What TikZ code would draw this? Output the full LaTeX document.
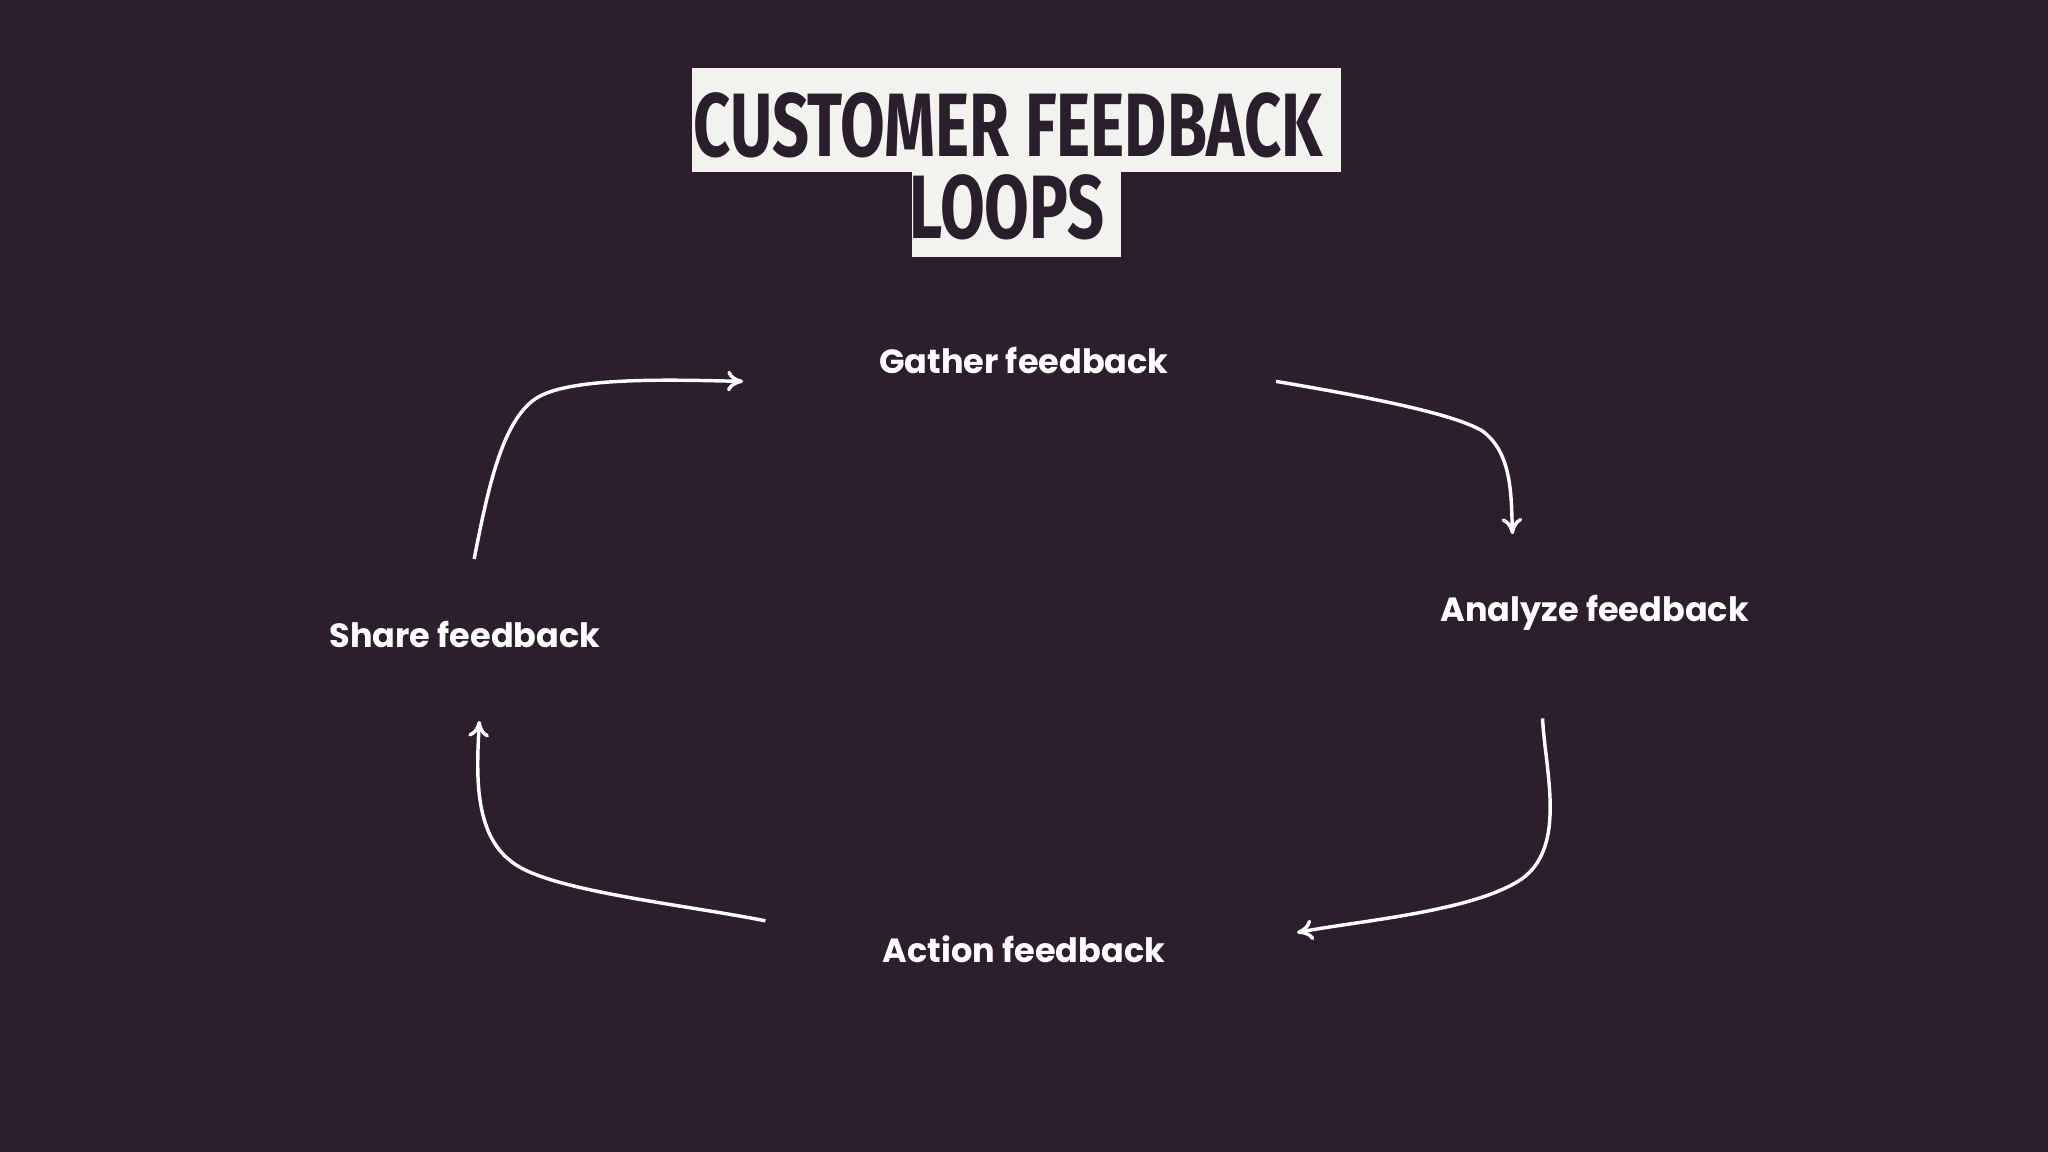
\documentclass[tikz,border=0pt]{standalone}
\usepackage{fontspec}
\setmainfont{Poppins}
\newfontfamily\titlefont[FakeStretch=0.72]{Fira Sans}
\usetikzlibrary{arrows.meta}
\definecolor{bg}{HTML}{2C1E2D}
\definecolor{ink}{HTML}{2A1E2C}
\definecolor{paper}{HTML}{F2F3EF}
\tikzset{
  lbl/.style={text=white,font=\bfseries\fontsize{7.3}{9}\selectfont},
  conn/.style={draw=white,line width=0.75pt,-{To[length=3.5pt,width=4.5pt]}},
  ttl/.style={text=ink,font=\titlefont\bfseries\fontsize{19.6}{23}\selectfont}
}
\begin{document}
\begin{tikzpicture}[x=0.01cm,y=-0.01cm]
\fill[bg] (0,0) rectangle (1568,882);
\useasboundingbox (0,0) rectangle (1568,882);
\fill[paper] (530,52) rectangle (1027,132);
\fill[paper] (698,132) rectangle (858,197);
\node[ttl] (t1) at (772,96) {CUSTOMER FEEDBACK};
\node[ttl] (t2) at (771,159) {LOOPS};
\node[lbl] (g) at (784,276) {Gather feedback};
\node[lbl] (a) at (1221,469) {Analyze feedback};
\node[lbl] (s) at (356,486) {Share feedback};
\node[lbl] (c) at (784,727) {Action feedback};
\coordinate (g1) at (977,292); \coordinate (a0) at (1158,409);
\coordinate (a1) at (1181,550); \coordinate (c0) at (993,714);
\coordinate (c1) at (586,705); \coordinate (s0) at (367,552);
\coordinate (s1) at (363,428); \coordinate (g0) at (569,292);
\draw[conn] (g1) .. controls (1060,306) and (1115,318) .. (1135,330) .. controls (1158,347) and (1157,380) .. (a0);
\draw[conn] (a1) .. controls (1183,590) and (1200,648) .. (1165,673) .. controls (1128,698) and (1040,705) .. (c0);
\draw[conn] (c1) .. controls (520,692) and (420,682) .. (392,660) .. controls (362,638) and (365,590) .. (s0);
\draw[conn] (s1) .. controls (374,372) and (385,320) .. (412,304) .. controls (440,288) and (520,291) .. (g0);
\end{tikzpicture}
\end{document}
